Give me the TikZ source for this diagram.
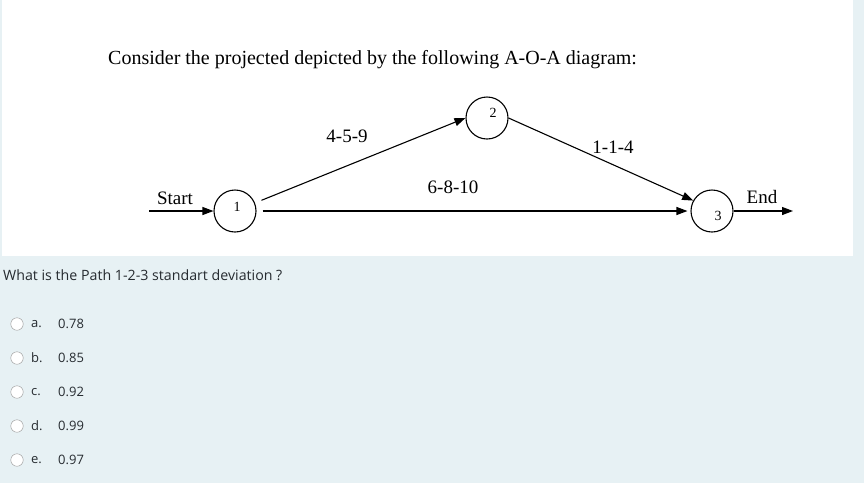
\documentclass[tikz,border=0pt]{standalone}
\usepackage{fontspec}
\setmainfont{Liberation Serif}
\newfontfamily\quizfont{Open Sans}
\usetikzlibrary{arrows.meta}
\definecolor{paleblue}{RGB}{231, 241, 244}
\definecolor{inkgray}{RGB}{38, 43, 48}
\definecolor{radiogray}{RGB}{150, 150, 150}

\begin{document}
\begin{tikzpicture}[x=1pt, y=-1pt,
    event/.style={draw, circle, line width=1.1pt, minimum size=42pt, inner sep=0pt},
    activity/.style={-{Triangle[length=11pt, width=8pt]}, line width=1.1pt},
    duration/.style={font=\fontsize{19}{22}\selectfont, inner sep=0pt},
    choice/.style={font=\quizfont\fontsize{13}{16}\selectfont, text=inkgray, anchor=west, inner sep=0pt},
    radio/.style={draw=radiogray, fill=white, circle, minimum size=12.5pt, inner sep=0pt}]
    % background panels
    \fill[paleblue]   (0, 0)   rectangle (864, 483);
    \fill[white]      (2, 0)   rectangle (853, 256);

    % title
    \node[anchor=base west, inner sep=0pt, font=\fontsize{20}{24}\selectfont] (title) at (108, 64)
        {Consider the projected depicted by the following A-O-A diagram:};

    % events
    \node[event, label={[xshift=2pt, yshift=4pt, font=\fontsize{14}{16}\selectfont]center:1}] (n1) at (235, 211) {};
    \node[event, label={[xshift=6pt, yshift=5pt, font=\fontsize{14}{16}\selectfont]center:2}] (n2) at (487, 118) {};
    \node[event, label={[xshift=6pt, yshift=-5pt, font=\fontsize{14}{16}\selectfont]center:3}] (n3) at (712, 211) {};
    \coordinate (startpt) at (149, 211);
    \coordinate (endpt)   at (793, 211);

    % activities
    \draw[activity] (startpt) -- (n1.west);
    \draw[activity, shorten <=7pt] (n1.22) -- (n2.west);
    \draw[activity, shorten <=6pt, shorten >=3pt] (n1.east) -- (n3.west);
    \draw[activity] (n2.east) -- (n3.151);
    \draw[activity] (n3.east) -- (endpt);

    % labels
    \node[duration] (lstart) at (175, 198) {Start};
    \node[duration] (lend)   at (762, 197) {End};
    \node[duration] (l12)    at (347, 136) {4-5-9};
    \node[duration] (l13)    at (453, 187) {6-8-10};
    \node[duration] (l23)    at (613, 147) {1-1-4};

    % question
    \node[choice, font=\quizfont\fontsize{14.2}{17}\selectfont] (question) at (3, 275) {What is the Path 1-2-3 standart deviation ?};
    \foreach \y/\letter/\val [count=\i] in {324/a/0.78, 358/b/0.85, 392/c/0.92, 426/d/0.99, 460/e/0.97}{
        \node[radio] (radio\i) at (17, \y) {};
        \node[choice] (letter\i) at (31, \y) {\letter.};
        \node[choice] (value\i)  at (58, \y) {\val};
    }
\end{tikzpicture}
\end{document}
